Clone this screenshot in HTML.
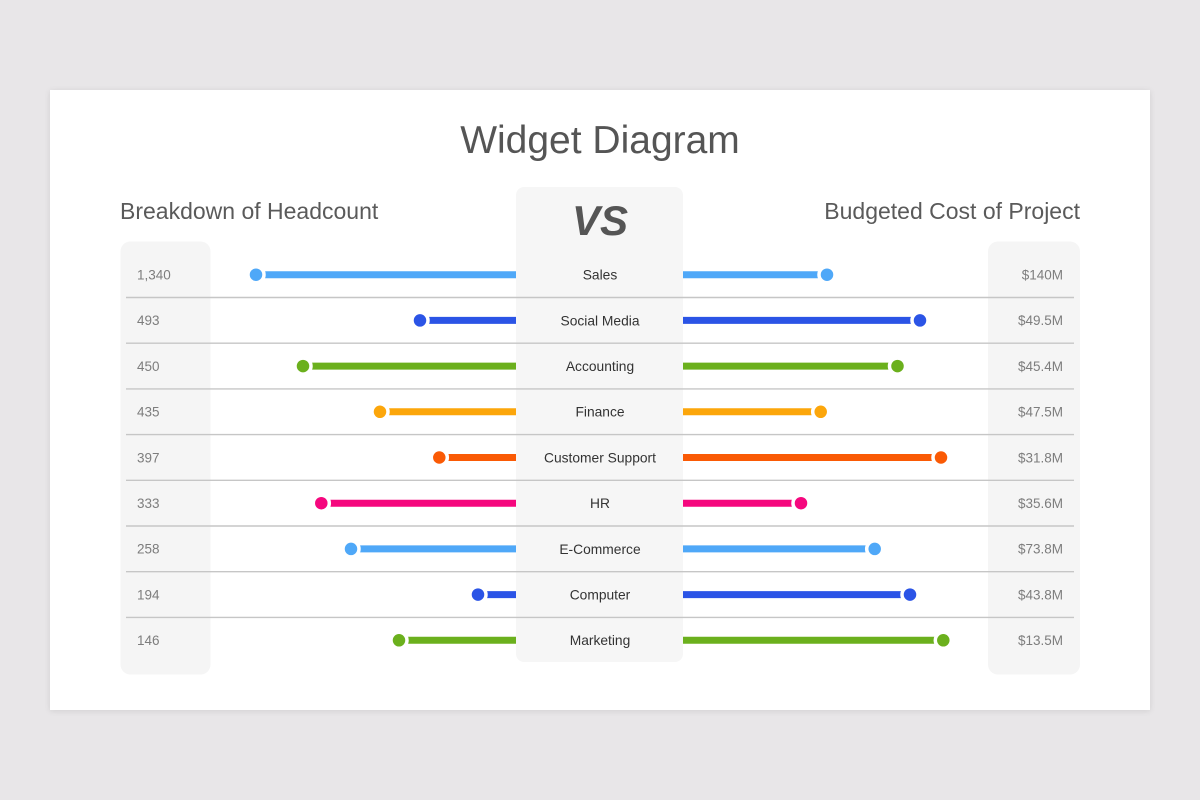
<!DOCTYPE html>
<html>
<head>
<meta charset="utf-8">
<style>
  html,body{margin:0;padding:0;}
  body{width:1200px;height:800px;background:#e8e6e8;position:relative;overflow:hidden;font-family:"Liberation Sans",sans-serif;}
  .card{position:absolute;left:50px;top:90px;width:1100px;height:620px;background:#fff;box-shadow:0 1px 6px rgba(0,0,0,0.10);}
  svg{position:absolute;left:0;top:0;}
</style>
</head>
<body>
<div class="card"></div>
<svg width="1200" height="800" viewBox="0 0 1200 800" xmlns="http://www.w3.org/2000/svg" font-family="Liberation Sans, sans-serif">
  <!-- panels -->
  <rect x="120.5" y="241.5" width="90" height="433" rx="10" fill="#f5f5f5"/>
  <rect x="988" y="241.5" width="92" height="433" rx="10" fill="#f5f5f5"/>
  <rect x="516" y="187" width="167" height="475" rx="8" fill="#f6f6f6"/>

  <!-- title -->
  <text x="600" y="153" font-size="39" fill="#555" text-anchor="middle">Widget Diagram</text>
  <text x="120" y="219" font-size="23" fill="#5a5a5a">Breakdown of Headcount</text>
  <text x="1080" y="219" font-size="23" fill="#5a5a5a" text-anchor="end">Budgeted Cost of Project</text>
  <text x="600" y="235" font-size="42" font-weight="bold" font-style="italic" fill="#555" text-anchor="middle">VS</text>

  <!-- separators -->
  <g stroke="#c6c6c6" stroke-width="1.4">
    <line x1="126" x2="1074" y1="297.5" y2="297.5"/>
    <line x1="126" x2="1074" y1="343.2" y2="343.2"/>
    <line x1="126" x2="1074" y1="388.9" y2="388.9"/>
    <line x1="126" x2="1074" y1="434.6" y2="434.6"/>
    <line x1="126" x2="1074" y1="480.3" y2="480.3"/>
    <line x1="126" x2="1074" y1="526.0" y2="526.0"/>
    <line x1="126" x2="1074" y1="571.7" y2="571.7"/>
    <line x1="126" x2="1074" y1="617.4" y2="617.4"/>
  </g>

  <!-- bars -->
  <g stroke-width="7">
    <line x1="256" x2="516" y1="274.7" y2="274.7" stroke="#4fa8f8"/>
    <line x1="683" x2="827" y1="274.7" y2="274.7" stroke="#4fa8f8"/>
    <line x1="420" x2="516" y1="320.4" y2="320.4" stroke="#2b54e6"/>
    <line x1="683" x2="920" y1="320.4" y2="320.4" stroke="#2b54e6"/>
    <line x1="303" x2="516" y1="366.1" y2="366.1" stroke="#6bb01d"/>
    <line x1="683" x2="897.5" y1="366.1" y2="366.1" stroke="#6bb01d"/>
    <line x1="380" x2="516" y1="411.8" y2="411.8" stroke="#fca60b"/>
    <line x1="683" x2="820.7" y1="411.8" y2="411.8" stroke="#fca60b"/>
    <line x1="439.3" x2="516" y1="457.5" y2="457.5" stroke="#fa5a05"/>
    <line x1="683" x2="941" y1="457.5" y2="457.5" stroke="#fa5a05"/>
    <line x1="321.3" x2="516" y1="503.2" y2="503.2" stroke="#f5077e"/>
    <line x1="683" x2="801" y1="503.2" y2="503.2" stroke="#f5077e"/>
    <line x1="351" x2="516" y1="548.9" y2="548.9" stroke="#4fa8f8"/>
    <line x1="683" x2="874.7" y1="548.9" y2="548.9" stroke="#4fa8f8"/>
    <line x1="478" x2="516" y1="594.6" y2="594.6" stroke="#2b54e6"/>
    <line x1="683" x2="910" y1="594.6" y2="594.6" stroke="#2b54e6"/>
    <line x1="399" x2="516" y1="640.3" y2="640.3" stroke="#6bb01d"/>
    <line x1="683" x2="943.3" y1="640.3" y2="640.3" stroke="#6bb01d"/>
  </g>

  <!-- dots with white ring -->
  <g stroke="#fff" stroke-width="3.5">
    <circle cx="256" cy="274.7" r="8" fill="#4fa8f8"/>
    <circle cx="827" cy="274.7" r="8" fill="#4fa8f8"/>
    <circle cx="420" cy="320.4" r="8" fill="#2b54e6"/>
    <circle cx="920" cy="320.4" r="8" fill="#2b54e6"/>
    <circle cx="303" cy="366.1" r="8" fill="#6bb01d"/>
    <circle cx="897.5" cy="366.1" r="8" fill="#6bb01d"/>
    <circle cx="380" cy="411.8" r="8" fill="#fca60b"/>
    <circle cx="820.7" cy="411.8" r="8" fill="#fca60b"/>
    <circle cx="439.3" cy="457.5" r="8" fill="#fa5a05"/>
    <circle cx="941" cy="457.5" r="8" fill="#fa5a05"/>
    <circle cx="321.3" cy="503.2" r="8" fill="#f5077e"/>
    <circle cx="801" cy="503.2" r="8" fill="#f5077e"/>
    <circle cx="351" cy="548.9" r="8" fill="#4fa8f8"/>
    <circle cx="874.7" cy="548.9" r="8" fill="#4fa8f8"/>
    <circle cx="478" cy="594.6" r="8" fill="#2b54e6"/>
    <circle cx="910" cy="594.6" r="8" fill="#2b54e6"/>
    <circle cx="399" cy="640.3" r="8" fill="#6bb01d"/>
    <circle cx="943.3" cy="640.3" r="8" fill="#6bb01d"/>
  </g>

  <!-- left numbers -->
  <g font-size="13.5" fill="#7d7d7d">
    <text x="137" y="279.5">1,340</text>
    <text x="137" y="325.2">493</text>
    <text x="137" y="370.9">450</text>
    <text x="137" y="416.6">435</text>
    <text x="137" y="462.3">397</text>
    <text x="137" y="508.0">333</text>
    <text x="137" y="553.7">258</text>
    <text x="137" y="599.4">194</text>
    <text x="137" y="645.1">146</text>
  </g>

  <!-- right numbers -->
  <g font-size="13.5" fill="#7d7d7d" text-anchor="end">
    <text x="1063" y="279.5">$140M</text>
    <text x="1063" y="325.2">$49.5M</text>
    <text x="1063" y="370.9">$45.4M</text>
    <text x="1063" y="416.6">$47.5M</text>
    <text x="1063" y="462.3">$31.8M</text>
    <text x="1063" y="508.0">$35.6M</text>
    <text x="1063" y="553.7">$73.8M</text>
    <text x="1063" y="599.4">$43.8M</text>
    <text x="1063" y="645.1">$13.5M</text>
  </g>

  <!-- center labels -->
  <g font-size="13.8" fill="#333" text-anchor="middle">
    <text x="600" y="279.6">Sales</text>
    <text x="600" y="325.3">Social Media</text>
    <text x="600" y="371.0">Accounting</text>
    <text x="600" y="416.7">Finance</text>
    <text x="600" y="462.4">Customer Support</text>
    <text x="600" y="508.1">HR</text>
    <text x="600" y="553.8">E-Commerce</text>
    <text x="600" y="599.5">Computer</text>
    <text x="600" y="645.2">Marketing</text>
  </g>
</svg>
</body>
</html>
